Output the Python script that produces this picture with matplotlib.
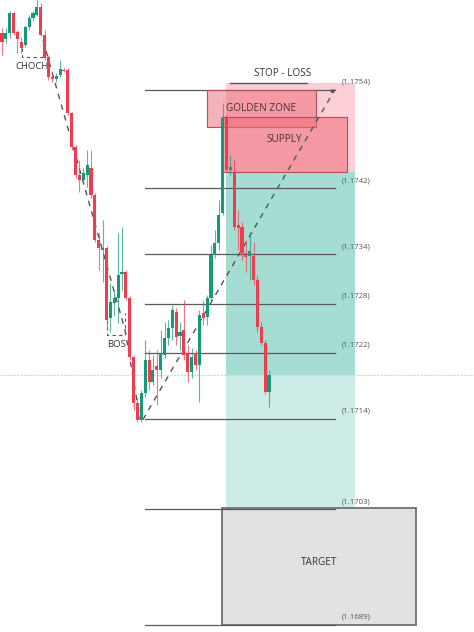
import matplotlib
matplotlib.use("Agg")
import matplotlib.pyplot as plt
from matplotlib.patches import Rectangle

plt.rcParams['font.family'] = ['Open Sans', 'DejaVu Sans']

# candles (price)
opens = [1.17609, 1.17602, 1.17609, 1.17633, 1.17610, 1.17598, 1.17594, 1.17616, 1.17627, 1.17631,
         1.17640, 1.17606, 1.17580, 1.17555, 1.17553, 1.17558, 1.17564, 1.17564, 1.17512, 1.17470,
         1.17436, 1.17430, 1.17436, 1.17445, 1.17412, 1.17357, 1.17345, 1.17348, 1.17263, 1.17281,
         1.17287, 1.17316, 1.17318, 1.17287, 1.17215, 1.17159, 1.17139, 1.17172, 1.17212, 1.17185,
         1.17204, 1.17199, 1.17218, 1.17238, 1.17250, 1.17270, 1.17241, 1.17248, 1.17220, 1.17197,
         1.17220, 1.17206, 1.17269, 1.17264, 1.17287, 1.17339, 1.17354, 1.17390, 1.17506, 1.17442,
         1.17439, 1.17376, 1.17373, 1.17342, 1.17338, 1.17338, 1.17309, 1.17252, 1.17232, 1.17173]
closes = [1.17598, 1.17609, 1.17633, 1.17609, 1.17602, 1.17591, 1.17616, 1.17627, 1.17633, 1.17640,
          1.17606, 1.17579, 1.17555, 1.17553, 1.17557, 1.17565, 1.17563, 1.17512, 1.17470, 1.17436,
          1.17430, 1.17439, 1.17449, 1.17412, 1.17357, 1.17348, 1.17348, 1.17260, 1.17282, 1.17287,
          1.17315, 1.17318, 1.17287, 1.17215, 1.17159, 1.17139, 1.17172, 1.17212, 1.17185, 1.17199,
          1.17199, 1.17220, 1.17238, 1.17250, 1.17272, 1.17240, 1.17246, 1.17218, 1.17197, 1.17215,
          1.17206, 1.17266, 1.17263, 1.17287, 1.17339, 1.17354, 1.17388, 1.17506, 1.17442, 1.17446,
          1.17373, 1.17372, 1.17342, 1.17337, 1.17344, 1.17309, 1.17252, 1.17232, 1.17173, 1.17193]
highs = [1.17615, 1.17615, 1.17636, 1.17634, 1.17613, 1.17604, 1.17619, 1.17631, 1.17636, 1.17649,
         1.17645, 1.17613, 1.17582, 1.17562, 1.17560, 1.17576, 1.17566, 1.17566, 1.17513, 1.17473,
         1.17455, 1.17445, 1.17467, 1.17467, 1.17414, 1.17366, 1.17382, 1.17350, 1.17305, 1.17297,
         1.17366, 1.17373, 1.17321, 1.17289, 1.17218, 1.17165, 1.17175, 1.17236, 1.17224, 1.17218,
         1.17224, 1.17248, 1.17258, 1.17260, 1.17278, 1.17275, 1.17258, 1.17285, 1.17230, 1.17226,
         1.17224, 1.17272, 1.17285, 1.17291, 1.17351, 1.17370, 1.17406, 1.17524, 1.17509, 1.17461,
         1.17455, 1.17394, 1.17379, 1.17357, 1.17367, 1.17355, 1.17315, 1.17258, 1.17236, 1.17199]
lows = [1.17582, 1.17597, 1.17603, 1.17606, 1.17585, 1.17585, 1.17592, 1.17613, 1.17625, 1.17630,
        1.17605, 1.17576, 1.17552, 1.17549, 1.17549, 1.17555, 1.17562, 1.17509, 1.17467, 1.17433,
        1.17416, 1.17428, 1.17422, 1.17408, 1.17355, 1.17321, 1.17306, 1.17248, 1.17246, 1.17265,
        1.17257, 1.17297, 1.17285, 1.17212, 1.17151, 1.17136, 1.17136, 1.17167, 1.17175, 1.17181,
        1.17157, 1.17190, 1.17214, 1.17230, 1.17236, 1.17230, 1.17224, 1.17212, 1.17185, 1.17190,
        1.17199, 1.17161, 1.17254, 1.17254, 1.17285, 1.17336, 1.17345, 1.17388, 1.17440, 1.17436,
        1.17370, 1.17345, 1.17333, 1.17318, 1.17309, 1.17303, 1.17246, 1.17230, 1.17170, 1.17155]

# fib levels
fib_levels = [1.1754, 1.1742, 1.1734, 1.1728, 1.1722, 1.1714, 1.1703, 1.1689]
fib_labels = ['(1.1754)', '(1.1742)', '(1.1734)', '(1.1728)', '(1.1722)', '(1.1714)', '(1.1703)', '(1.1689)']
fib_x = (36.9, 86.0)
last_price = 1.17193

# zones: (x0, x1, y0, y1)
stop_zone = (57.9, 91.2, 1.17440, 1.17548)
profit_zone = (57.9, 91.2, 1.17193, 1.17440)
profit_zone_2 = (57.9, 91.2, 1.17033, 1.17193)
golden_zone = (53.0, 81.1, 1.17495, 1.1754)
supply_zone = (56.8, 89.1, 1.17440, 1.17507)
target_zone = (56.8, 107.0, 1.1689, 1.17032)

# swing paths
down_path_x = [10.6, 31.8, 35.7]
down_path_y = [1.17600, 1.17248, 1.17139]
up_path_x = [36.4, 86.0]
up_path_y = [1.17139, 1.1754]
choch_x = [5.2, 5.2, 11.1]
choch_y = [1.17591, 1.17580, 1.17580]
bos_x = [27.1, 27.1, 31.8, 31.8]
bos_y = [1.17260, 1.17242, 1.17242, 1.17269]

red = '#ee3d50'
green = '#159a78'

fig = plt.figure(figsize=(4.74, 6.32), dpi=100)
ax = fig.add_axes([0, 0, 1, 1])
ax.set_xlim(-0.52, 121.96)
ax.set_ylim(1.16881, 1.17649)
ax.axis('off')

def zone(z, **kw):
    x0, x1, y0, y1 = z
    ax.add_patch(Rectangle((x0, y0), x1 - x0, y1 - y0, **kw))

zone(stop_zone, facecolor='#fbcfd5', edgecolor='none', zorder=1)
zone(profit_zone, facecolor='#a6ddd3', edgecolor='none', zorder=1)
zone(profit_zone_2, facecolor='#cdece7', edgecolor='none', zorder=1)
zone(target_zone, facecolor='#e2e2e4', edgecolor='#707070', lw=1.3, zorder=1)

ax.axhline(last_price, color='#bde3dd', lw=0.8, ls=(0, (2, 1)), zorder=1.5)

for lvl, lab in zip(fib_levels, fib_labels):
    ax.plot(fib_x, [lvl, lvl], color='#5a5a5a', lw=0.9, zorder=2)
    ax.text(fib_x[1] + 1.9, lvl + 0.00005, lab, fontsize=5.6, color='#555555',
            va='bottom', ha='left', zorder=6)

# supply / golden zone boxes
zone(golden_zone, facecolor=(0.93, 0.40, 0.46, 0.5), edgecolor='#b0505a', lw=0.8, zorder=2.5)
zone(supply_zone, facecolor=(0.94, 0.42, 0.48, 0.55), edgecolor='#b0505a', lw=0.8, zorder=2.5)

# dashed swings
ax.plot(down_path_x, down_path_y, color='#555555', lw=1.0, ls=(0, (4, 4)), zorder=2)
ax.plot(up_path_x, up_path_y, color='#555555', lw=1.0, ls=(0, (4, 4)), zorder=2.6)
ax.annotate('', xy=(up_path_x[1], up_path_y[1]), xytext=(up_path_x[1] - 0.8, up_path_y[1] - 0.000018),
            arrowprops=dict(arrowstyle='-|>', color='#555555', lw=0.8, mutation_scale=5), zorder=2.6)
ax.plot(choch_x, choch_y, color='#555555', lw=0.8, ls=(0, (3, 3)), zorder=2)
ax.plot(bos_x, bos_y, color='#555555', lw=0.8, ls=(0, (3, 3)), zorder=2)
ax.text(3.4, 1.17568, 'CHOCH', fontsize=6.8, color='#333333', va='center', ha='left', zorder=2)
ax.text(29.5, 1.17230, 'BOS', fontsize=6.8, color='#333333', va='center', ha='center', zorder=2)

# candles
for i, (o, h, l, c) in enumerate(zip(opens, highs, lows, closes)):
    col = green if c >= o else red
    ax.vlines(i, l, h, color=col, lw=0.8, alpha=0.7, zorder=3)
    ax.bar(i, abs(c - o) or 0.00002, bottom=min(o, c), width=0.8, color=col, lw=0, zorder=4)

ax.text((golden_zone[0] + golden_zone[1]) / 2, (golden_zone[2] + golden_zone[3]) / 2, 'GOLDEN ZONE',
        fontsize=7.2, color='#4a3035', ha='center', va='center', zorder=6)
ax.text((supply_zone[0] + supply_zone[1]) / 2, 1.17480, 'SUPPLY',
        fontsize=7.2, color='#4a3035', ha='center', va='center', zorder=6)
ax.plot([58.9, 78.8], [1.17548, 1.17548], color='#555555', lw=1.0, zorder=6)
ax.text(72.4, 1.17560, 'STOP - LOSS', fontsize=7.2, color='#333333', ha='center', va='center', zorder=6)
ax.text((target_zone[0] + target_zone[1]) / 2, 1.17615 - 0.0065, 'TARGET',
        fontsize=7.2, color='#333333', ha='center', va='center', zorder=6)

fig.savefig('out.png', dpi=100)
